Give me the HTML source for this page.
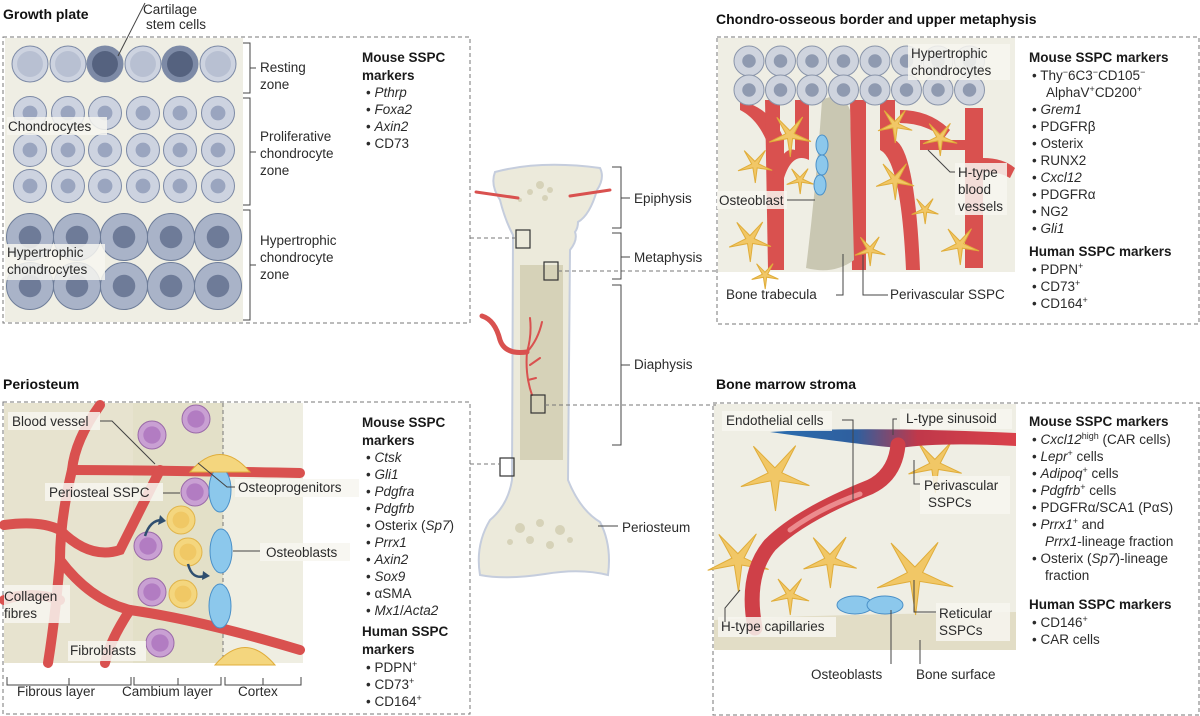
<!DOCTYPE html>
<html><head><meta charset="utf-8">
<style>
body{margin:0;background:#fff;}
svg{display:block;font-family:"Liberation Sans",sans-serif;}
.t{font-size:13.5px;fill:#2b2b2b;}
.b{font-weight:bold;fill:#1a1a1a;}
.i{font-style:italic;}
.h{font-size:14px;font-weight:bold;fill:#111;}
.d{fill:none;stroke:#777;stroke-width:1;stroke-dasharray:4 3;}
.l{fill:none;stroke:#444;stroke-width:1;}
.lb{fill:#f7f6f0;opacity:.85}
</style></head><body>
<svg id="s" width="1200" height="716" viewBox="0 0 1200 716" xmlns="http://www.w3.org/2000/svg">
<text x="3" y="19" class="h">Growth plate</text>
<text x="716" y="24" class="h">Chondro-osseous border and upper metaphysis</text>
<text x="3" y="389" class="h">Periosteum</text>
<text x="716" y="389" class="h">Bone marrow stroma</text>

<rect x="3" y="37" width="467" height="286" class="d"/>
<rect x="717" y="37" width="482" height="287" class="d"/>
<rect x="3" y="402" width="467" height="312" class="d"/>
<rect x="713" y="403" width="486" height="312" class="d"/>

<!-- Growth plate -->
<rect x="5" y="38" width="238" height="284" fill="#efeee4"/>
<g id="gp"></g>
<rect x="7" y="117" width="100" height="18" class="lb"/>
<text x="8" y="131" class="t">Chondrocytes</text>
<rect x="5" y="244" width="100" height="36" class="lb"/>
<text x="7" y="257" class="t">Hypertrophic</text>
<text x="7" y="274" class="t">chondrocytes</text>
<path d="M118 56 L145 3" class="l"/>
<text x="170" y="14" class="t" text-anchor="middle">Cartilage</text>
<text x="176" y="29" class="t" text-anchor="middle">stem cells</text>
<path d="M243 43 H250 V93 H243 M250 68 H256" class="l"/>
<path d="M243 98 H250 V205 H243 M250 152 H256" class="l"/>
<path d="M243 210 H250 V320 H243 M250 265 H256" class="l"/>
<text x="260" y="72" class="t">Resting</text><text x="260" y="89" class="t">zone</text>
<text x="260" y="141" class="t">Proliferative</text><text x="260" y="158" class="t">chondrocyte</text><text x="260" y="175" class="t">zone</text>
<text x="260" y="245" class="t">Hypertrophic</text><text x="260" y="262" class="t">chondrocyte</text><text x="260" y="279" class="t">zone</text>
<text x="362" y="62" class="t b">Mouse SSPC</text>
<text x="362" y="80" class="t b">markers</text>
<g class="t"><text x="366" y="97">• <tspan class="i">Pthrp</tspan></text>
<text x="366" y="114">• <tspan class="i">Foxa2</tspan></text>
<text x="366" y="131">• <tspan class="i">Axin2</tspan></text>
<text x="366" y="148">• CD73</text></g>

<!-- Chondro-osseous -->
<rect x="718" y="38" width="297" height="234" fill="#efeee4"/>
<g fill="#d9514f">
<path d="M740 110 q20 10 30 40 v120 h14 v-130 q-10 -30 -44 -40z"/>
<path d="M765 100 h15 v170 h-12z"/>
<path d="M795 100 h14 v60 q-20 -10 -28 30 l-10 -5 q10 -40 24 -35z"/>
<path d="M850 100 h16 v170 h-14z"/>
<path d="M880 100 h15 v40 q20 10 25 130 h-14 q-5 -110 -26 -120z"/>
<path d="M900 110 q30 0 50 20 l-6 8 q-20 -15 -44 -15z"/>
<path d="M965 108 h18 v50 q20 0 32 10 l-5 10 q-15 -8 -27 -5 v95 h-18z"/>
<path d="M920 140 h60 v10 h-60z"/>
</g>
<path d="M822 100 q20 -10 28 10 l4 150 q-20 15 -48 8 q10 -80 16 -168z" fill="#c9c7b2"/>
<g fill="#8cc8ec" stroke="#4a90c8"><ellipse cx="822" cy="145" rx="6" ry="10"/><ellipse cx="822" cy="165" rx="6" ry="10"/><ellipse cx="820" cy="185" rx="6" ry="10"/></g>
<g id="co"></g>
<rect x="908" y="44" width="102" height="36" class="lb"/>
<text x="911" y="58" class="t">Hypertrophic</text><text x="911" y="75" class="t">chondrocytes</text>
<rect x="717" y="191" width="70" height="18" class="lb"/>
<text x="719" y="205" class="t">Osteoblast</text>
<path d="M787 200 H815" class="l"/>
<rect x="955" y="163" width="52" height="52" class="lb"/>
<text x="958" y="177" class="t">H-type</text><text x="958" y="194" class="t">blood</text><text x="958" y="211" class="t">vessels</text>
<path d="M928 150 L950 172 H955" class="l"/>
<path d="M843 254 V295 H836" class="l"/>
<path d="M863 255 V295 H888" class="l"/>
<text x="726" y="299" class="t">Bone trabecula</text>
<text x="890" y="299" class="t">Perivascular SSPC</text>
<text x="1029" y="62" class="t b">Mouse SSPC markers</text>
<g class="t">
<text x="1032" y="80">• Thy<tspan font-size="9" dy="-5">−</tspan><tspan dy="5">6C3</tspan><tspan font-size="9" dy="-5">−</tspan><tspan dy="5">CD105</tspan><tspan font-size="9" dy="-5">−</tspan></text>
<text x="1046" y="97">AlphaV<tspan font-size="9" dy="-5">+</tspan><tspan dy="5">CD200</tspan><tspan font-size="9" dy="-5">+</tspan></text>
<text x="1032" y="114">• <tspan class="i">Grem1</tspan></text>
<text x="1032" y="131">• PDGFRβ</text>
<text x="1032" y="148">• Osterix</text>
<text x="1032" y="165">• RUNX2</text>
<text x="1032" y="182">• <tspan class="i">Cxcl12</tspan></text>
<text x="1032" y="199">• PDGFRα</text>
<text x="1032" y="216">• NG2</text>
<text x="1032" y="233">• <tspan class="i">Gli1</tspan></text>
</g>
<text x="1029" y="256" class="t b">Human SSPC markers</text>
<g class="t"><text x="1032" y="274">• PDPN<tspan font-size="9" dy="-5">+</tspan></text>
<text x="1032" y="291">• CD73<tspan font-size="9" dy="-5">+</tspan></text>
<text x="1032" y="308">• CD164<tspan font-size="9" dy="-5">+</tspan></text></g>

<!-- Periosteum -->
<rect x="4" y="403" width="298" height="260" fill="#e7e3cf"/>
<rect x="133" y="403" width="90" height="260" fill="#e3e0c8"/>
<rect x="223" y="403" width="80" height="260" fill="#efeee2"/>
<line x1="223" y1="403" x2="223" y2="663" class="d"/>
<g fill="none" stroke="#d9514f" stroke-width="10" stroke-linecap="round">
<path d="M100 405 Q75 440 72 470 Q60 520 60 560 Q55 620 48 663"/>
<path d="M72 470 Q140 470 300 473"/>
<path d="M4 525 Q40 520 60 530 Q90 560 120 550 L160 470"/>
<path d="M60 560 Q90 600 130 610 Q200 620 300 650"/>
<path d="M130 610 Q110 640 105 663"/>
<path d="M4 600 Q30 590 60 600"/>
</g>
<g id="po"></g>
<path d="M145 536 Q150 520 162 520" fill="none" stroke="#2f4f6f" stroke-width="2.5"/>
<path d="M160 515 L166 521 L158 525z" fill="#2f4f6f"/>
<path d="M188 564 Q192 580 205 576" fill="none" stroke="#2f4f6f" stroke-width="2.5"/>
<path d="M203 571 L210 576 L202 580z" fill="#2f4f6f"/>
<rect x="8" y="412" width="92" height="18" class="lb"/>
<text x="12" y="426" class="t">Blood vessel</text>
<path d="M100 421 H112 L155 464" class="l"/>
<rect x="45" y="483" width="118" height="18" class="lb"/>
<text x="49" y="497" class="t">Periosteal SSPC</text>
<path d="M163 493 H180" class="l"/>
<path d="M198 463 L227 487 H235" class="l"/>
<rect x="235" y="479" width="124" height="18" class="lb"/>
<text x="238" y="492" class="t">Osteoprogenitors</text>
<path d="M233 551 H260" class="l"/>
<rect x="260" y="543" width="90" height="18" class="lb"/>
<text x="266" y="557" class="t">Osteoblasts</text>
<rect x="4" y="585" width="66" height="38" class="lb"/>
<text x="4" y="601" class="t">Collagen</text><text x="4" y="618" class="t">fibres</text>
<rect x="68" y="641" width="78" height="20" class="lb"/>
<text x="70" y="655" class="t">Fibroblasts</text>
<path d="M7 677 V685 H131 V677 M69 685 V678 M134 677 V685 H221 V677 M178 685 V678 M225 677 V685 H301 V677 M263 685 V678" class="l"/>
<text x="17" y="696" class="t">Fibrous layer</text>
<text x="122" y="696" class="t">Cambium layer</text>
<text x="238" y="696" class="t">Cortex</text>
<text x="362" y="427" class="t b">Mouse SSPC</text>
<text x="362" y="445" class="t b">markers</text>
<g class="t">
<text x="366" y="462">• <tspan class="i">Ctsk</tspan></text>
<text x="366" y="479">• <tspan class="i">Gli1</tspan></text>
<text x="366" y="496">• <tspan class="i">Pdgfra</tspan></text>
<text x="366" y="513">• <tspan class="i">Pdgfrb</tspan></text>
<text x="366" y="530">• Osterix (<tspan class="i">Sp7</tspan>)</text>
<text x="366" y="547">• <tspan class="i">Prrx1</tspan></text>
<text x="366" y="564">• <tspan class="i">Axin2</tspan></text>
<text x="366" y="581">• <tspan class="i">Sox9</tspan></text>
<text x="366" y="598">• αSMA</text>
<text x="366" y="615">• <tspan class="i">Mx1</tspan>/<tspan class="i">Acta2</tspan></text>
</g>
<text x="362" y="636" class="t b">Human SSPC</text>
<text x="362" y="654" class="t b">markers</text>
<g class="t"><text x="366" y="672">• PDPN<tspan font-size="9" dy="-5">+</tspan></text>
<text x="366" y="689">• CD73<tspan font-size="9" dy="-5">+</tspan></text>
<text x="366" y="706">• CD164<tspan font-size="9" dy="-5">+</tspan></text></g>

<!-- Bone marrow -->
<rect x="714" y="404" width="302" height="246" fill="#efeee4"/>
<path d="M714 620 Q800 615 1016 612 V650 H714z" fill="#e2ddc6"/>
<defs><linearGradient id="vg" x1="770" x2="1016" y1="0" y2="0" gradientUnits="userSpaceOnUse"><stop offset="0" stop-color="#2a6db0"/><stop offset=".35" stop-color="#2f5f9e"/><stop offset=".6" stop-color="#c0384a"/><stop offset="1" stop-color="#d9414a"/></linearGradient></defs>
<g id="bm"></g>
<path d="M770 432 Q860 426 1016 433 V446 Q940 442 900 448 Q870 446 770 432z" fill="url(#vg)"/>
<path d="M898 445 Q895 475 870 487 Q800 515 770 545 Q745 575 755 628" fill="none" stroke="#cf4048" stroke-width="15" stroke-linecap="round"/>
<path d="M860 494 Q820 508 790 530" fill="none" stroke="#ec8b8e" stroke-width="5" stroke-linecap="round"/>
<rect x="722" y="411" width="110" height="20" class="lb"/>
<text x="726" y="425" class="t">Endothelial cells</text>
<path d="M842 420 H853 V500" class="l"/>
<rect x="900" y="409" width="112" height="20" class="lb"/>
<text x="906" y="423" class="t">L-type sinusoid</text>
<path d="M897 419 H893 V435" class="l"/>
<rect x="920" y="476" width="90" height="38" class="lb"/>
<text x="924" y="490" class="t">Perivascular</text><text x="928" y="507" class="t">SSPCs</text>
<path d="M914 460 V484 H920" class="l"/>
<rect x="936" y="603" width="74" height="38" class="lb"/>
<text x="939" y="618" class="t">Reticular</text><text x="939" y="635" class="t">SSPCs</text>
<path d="M914 580 V612 H936" class="l"/>
<rect x="718" y="617" width="118" height="20" class="lb"/>
<text x="721" y="631" class="t">H-type capillaries</text>
<path d="M725 622 V608 L740 590" class="l"/>
<path d="M891 610 V664 M920 640 V664" class="l"/>
<text x="811" y="679" class="t">Osteoblasts</text>
<text x="916" y="679" class="t">Bone surface</text>
<text x="1029" y="426" class="t b">Mouse SSPC markers</text>
<g class="t">
<text x="1032" y="444">• <tspan class="i">Cxcl12</tspan><tspan font-size="9" dy="-5">high</tspan><tspan dy="5"> (CAR cells)</tspan></text>
<text x="1032" y="461">• <tspan class="i">Lepr</tspan><tspan font-size="9" dy="-5">+</tspan><tspan dy="5"> cells</tspan></text>
<text x="1032" y="478">• <tspan class="i">Adipoq</tspan><tspan font-size="9" dy="-5">+</tspan><tspan dy="5"> cells</tspan></text>
<text x="1032" y="495">• <tspan class="i">Pdgfrb</tspan><tspan font-size="9" dy="-5">+</tspan><tspan dy="5"> cells</tspan></text>
<text x="1032" y="512">• PDGFRα/SCA1 (PαS)</text>
<text x="1032" y="529">• <tspan class="i">Prrx1</tspan><tspan font-size="9" dy="-5">+</tspan><tspan dy="5"> and</tspan></text>
<text x="1045" y="546"><tspan class="i">Prrx1</tspan>-lineage fraction</text>
<text x="1032" y="563">• Osterix (<tspan class="i">Sp7</tspan>)-lineage</text>
<text x="1045" y="580">fraction</text>
</g>
<text x="1029" y="609" class="t b">Human SSPC markers</text>
<g class="t"><text x="1032" y="627">• CD146<tspan font-size="9" dy="-5">+</tspan></text>
<text x="1032" y="644">• CAR cells</text></g>

<!-- Central bone -->
<path d="M495 172 Q540 160 600 168 Q605 178 597 190 Q590 215 578 222 Q578 228 575 232 Q578 240 570 250 L568 480 Q580 510 600 522 Q612 545 608 575 Q580 568 545 574 Q505 580 480 575 Q475 545 490 520 Q508 505 512 480 L513 235 Q505 220 500 200 Q490 185 495 172z" fill="#eceadb" stroke="#c5cddd" stroke-width="2"/>
<path d="M520 265 L563 265 L563 460 L520 460z" fill="#d6d2b8"/>
<g fill="#d6d2b8"><circle cx="540" cy="185" r="4"/><circle cx="550" cy="190" r="3"/><circle cx="530" cy="192" r="3"/><circle cx="545" cy="198" r="3"/><circle cx="520" cy="200" r="2"/>
<circle cx="520" cy="528" r="5"/><circle cx="540" cy="523" r="4"/><circle cx="560" cy="530" r="5"/><circle cx="530" cy="540" r="4"/><circle cx="550" cy="545" r="4"/><circle cx="570" cy="540" r="3"/><circle cx="510" cy="542" r="3"/></g>
<g fill="none" stroke="#d9514f" stroke-linecap="round">
<path d="M476 192 L518 198 M570 196 L610 190" stroke-width="3"/>
<path d="M482 316 Q495 320 500 340 Q505 355 527 352" stroke-width="5"/>
<path d="M527 352 Q532 335 530 318 M527 352 Q538 340 542 322 M527 352 Q525 375 532 395 M530 365 L540 358 M528 380 L536 378" stroke-width="2"/>
</g>
<g fill="none" stroke="#333" stroke-width="1.2">
<rect x="516" y="230" width="14" height="18"/><rect x="544" y="262" width="14" height="18"/>
<rect x="531" y="395" width="14" height="18"/><rect x="500" y="458" width="14" height="18"/></g>
<path d="M470 238 H516 M558 271 H716 M545 405 H716 M470 464 H500" class="d"/>
<path d="M612 167 H621 V228 H612 M621 198 H630 M612 233 H621 V279 H612 M621 257 H630 M612 285 H621 V445 H612 M621 365 H630 M598 526 H618" class="l"/>
<text x="634" y="203" class="t">Epiphysis</text>
<text x="634" y="262" class="t">Metaphysis</text>
<text x="634" y="369" class="t">Diaphysis</text>
<text x="622" y="532" class="t">Periosteum</text>
</svg>
<script>
const NS="http://www.w3.org/2000/svg";
function c(g,x,y,r,f,s,n){const G=document.getElementById(g);
 let e=document.createElementNS(NS,"circle");e.setAttribute("cx",x);e.setAttribute("cy",y);e.setAttribute("r",r);e.setAttribute("fill",f);e.setAttribute("stroke",s||"#6e7d99");G.appendChild(e);
 if(n){let k=document.createElementNS(NS,"circle");k.setAttribute("cx",x);k.setAttribute("cy",y);k.setAttribute("r",r*n[0]);k.setAttribute("fill",n[1]);G.appendChild(k);}}
function star(g,x,y,s,col){const G=document.getElementById(g);let p="";for(let i=0;i<10;i++){let a=i*Math.PI/5+0.3,r=i%2?s*0.2:s;p+=(i?"L":"M")+(x+r*Math.cos(a)).toFixed(1)+" "+(y+r*Math.sin(a)).toFixed(1);}
 let e=document.createElementNS(NS,"path");e.setAttribute("d",p+"z");e.setAttribute("fill",col||"#f1c766");e.setAttribute("stroke","#e0ad3a");G.appendChild(e);}
const xs=[30,68,105,143,180,218];
xs.forEach((x,i)=>{const dk=(i==2||i==4);c("gp",x,64,18,dk?"#7d8aa6":"#cdd3e0","#7d8aa6",[0.72,dk?"#55627f":"#b8c0d2"]);});
[113,150,186].forEach(y=>xs.forEach(x=>c("gp",x,y,16.5,"#cdd3e0","#7d8aa6",[0.45,"#9aa5bf"])));
[237,286].forEach(y=>[30,77,124,171,218].forEach(x=>c("gp",x,y,23.5,"#a9b3c8","#6e7d99",[0.48,"#6e7b98"])));
for(let i=0;i<8;i++){c("co",749+i*31.5,61,15,"#cfd4de","#8a95aa",[0.45,"#8f9ab0"]);c("co",749+i*31.5,90,15,"#cfd4de","#8a95aa",[0.45,"#8f9ab0"]);}
[[790,135,22],[755,165,18],[800,180,14],[750,240,22],[765,275,14],[895,125,18],[940,138,18],[895,180,20],[925,210,14],[960,245,20],[870,250,16]].forEach(a=>star("co",...a));
[[152,435],[196,419],[195,492],[148,546],[152,592],[160,643]].forEach(a=>c("po",a[0],a[1],14,"#c9a0d3","#9a6aa8",[0.62,"#b27cc2"]));
[[181,520],[188,552],[183,594]].forEach(a=>c("po",a[0],a[1],14,"#f4d67e","#e0b44a",[0.6,"#f0c865"]));
[[220,490],[221,551],[220,606]].forEach(a=>{const G=document.getElementById("po");let e=document.createElementNS(NS,"ellipse");e.setAttribute("cx",a[0]);e.setAttribute("cy",a[1]);e.setAttribute("rx",11);e.setAttribute("ry",22);e.setAttribute("fill","#8cc8ec");e.setAttribute("stroke","#4a90c8");G.appendChild(e);});
[[220,462],[245,655]].forEach(a=>{const G=document.getElementById("po");let e=document.createElementNS(NS,"path");e.setAttribute("d",`M${a[0]-30} ${a[1]+10} Q${a[0]} ${a[1]-25} ${a[0]+30} ${a[1]+10}z`);e.setAttribute("fill","#f4d67e");e.setAttribute("stroke","#e0ad3a");G.appendChild(e);});
[[775,475,36],[738,560,32],[830,560,28],[790,595,20],[915,575,40],[935,465,28]].forEach(a=>star("bm",...a));
[[855,605],[885,605]].forEach(a=>{const G=document.getElementById("bm");let e=document.createElementNS(NS,"ellipse");e.setAttribute("cx",a[0]);e.setAttribute("cy",a[1]);e.setAttribute("rx",18);e.setAttribute("ry",9);e.setAttribute("fill","#8cc8ec");e.setAttribute("stroke","#4a90c8");G.appendChild(e);});
</script>
</body></html>
